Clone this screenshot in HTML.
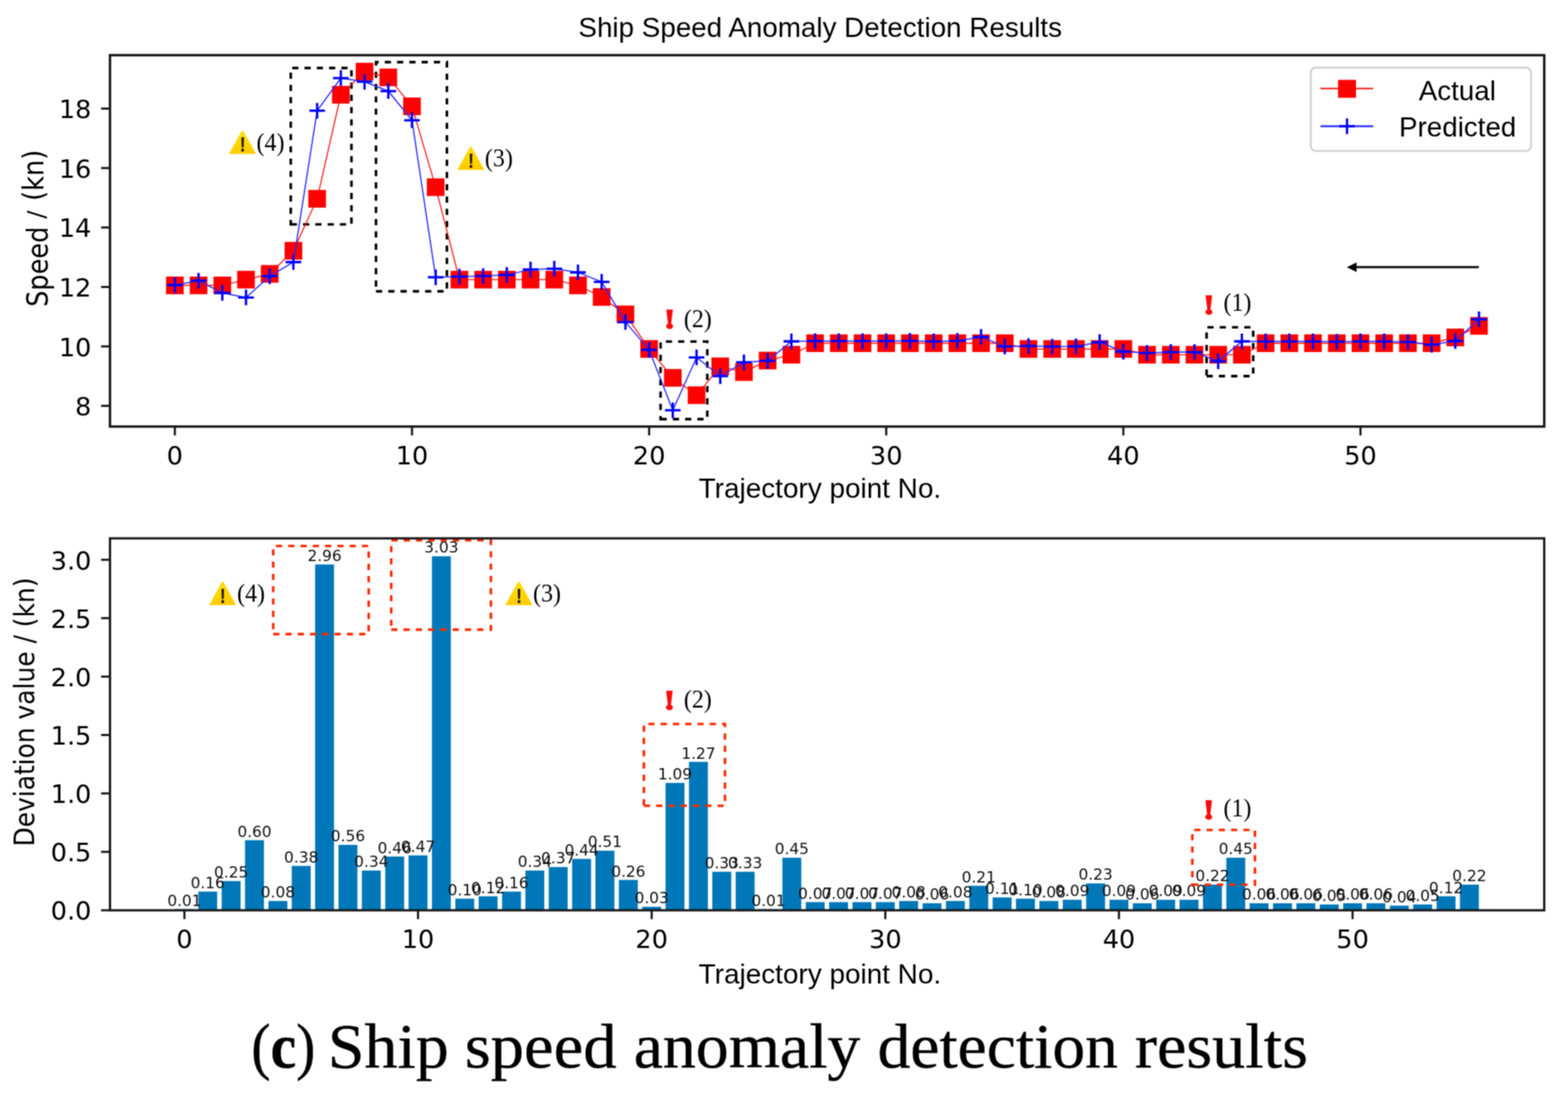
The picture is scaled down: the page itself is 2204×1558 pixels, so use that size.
<!DOCTYPE html>
<html lang="en"><head><meta charset="utf-8"><title>Ship speed anomaly detection results</title>
<style>html,body{margin:0;padding:0;background:#fff}body{width:2204px;height:1558px;overflow:hidden}svg{display:block}</style>
</head><body>
<svg width="2204" height="1558" viewBox="0 0 2204 1558">
<rect x="0" y="0" width="2204" height="1558" fill="#fff"/>
<defs>
<filter id="soft" x="0" y="0" width="2204" height="1558" filterUnits="userSpaceOnUse" color-interpolation-filters="sRGB"><feConvolveMatrix order="3" kernelMatrix="1 2 1 2 4 2 1 2 1" divisor="16" edgeMode="duplicate" preserveAlpha="true"/></filter>
<linearGradient id="wg" x1="0" y1="0" x2="0" y2="1"><stop offset="0" stop-color="#ffe100"/><stop offset="0.8" stop-color="#ffd000"/><stop offset="1" stop-color="#ffc400"/></linearGradient>
</defs>
<g id="fig" filter="url(#soft)">
<rect x="0" y="0" width="2204" height="1558" fill="#fff"/>
<g id="top">
<text x="1152.9" y="52" font-family='"Liberation Sans", Arial, Helvetica, sans-serif' font-size="39" text-anchor="middle" fill="#000" textLength="679.6" lengthAdjust="spacingAndGlyphs">Ship Speed Anomaly Detection Results</text>
<path d="M408.7 315.5H494.0V95.6H408.7Z" fill="none" stroke="#000" stroke-width="3.6" stroke-dasharray="8.70 8.56" stroke-dashoffset="0"/>
<path d="M528.5 409.6H628.2V87.4H528.5Z" fill="none" stroke="#000" stroke-width="3.6" stroke-dasharray="8.70 8.56" stroke-dashoffset="0"/>
<path d="M928.5 589.4H994.2V480.3H928.5Z" fill="none" stroke="#000" stroke-width="3.6" stroke-dasharray="8.70 8.56" stroke-dashoffset="0"/>
<path d="M1696.0 528.9H1761.5V460.2H1696.0Z" fill="none" stroke="#000" stroke-width="3.6" stroke-dasharray="8.70 8.56" stroke-dashoffset="0"/>
<polyline points="245.8,401.3 279.1,401.3 312.5,401.3 345.8,393.2 379.1,385.1 412.4,352.6 445.8,279.5 479.1,133.2 512.4,100.7 545.8,108.8 579.1,149.5 612.4,263.2 645.8,393.2 679.1,393.2 712.4,393.2 745.8,393.2 779.1,393.2 812.4,401.3 845.7,417.6 879.1,442.0 912.4,490.7 945.7,531.3 979.1,555.7 1012.4,515.1 1045.7,523.2 1079.0,507.0 1112.4,498.8 1145.7,482.6 1179.0,482.6 1212.4,482.6 1245.7,482.6 1279.0,482.6 1312.4,482.6 1345.7,482.6 1379.0,482.6 1412.3,482.6 1445.7,490.7 1479.0,490.7 1512.3,490.7 1545.7,490.7 1579.0,490.7 1612.3,498.8 1645.7,498.8 1679.0,498.8 1712.3,498.8 1745.6,498.8 1779.0,482.6 1812.3,482.6 1845.6,482.6 1879.0,482.6 1912.3,482.6 1945.6,482.6 1979.0,482.6 2012.3,482.6 2045.6,474.5 2078.9,458.2" fill="none" stroke="#ff1a1a" stroke-width="1.6" stroke-linejoin="round"/>
<rect x="233.4" y="388.9" width="24.8" height="24.8" fill="#ff0000"/>
<rect x="266.7" y="388.9" width="24.8" height="24.8" fill="#ff0000"/>
<rect x="300.1" y="388.9" width="24.8" height="24.8" fill="#ff0000"/>
<rect x="333.4" y="380.8" width="24.8" height="24.8" fill="#ff0000"/>
<rect x="366.7" y="372.7" width="24.8" height="24.8" fill="#ff0000"/>
<rect x="400.1" y="340.2" width="24.8" height="24.8" fill="#ff0000"/>
<rect x="433.4" y="267.1" width="24.8" height="24.8" fill="#ff0000"/>
<rect x="466.7" y="120.8" width="24.8" height="24.8" fill="#ff0000"/>
<rect x="500.0" y="88.3" width="24.8" height="24.8" fill="#ff0000"/>
<rect x="533.4" y="96.4" width="24.8" height="24.8" fill="#ff0000"/>
<rect x="566.7" y="137.1" width="24.8" height="24.8" fill="#ff0000"/>
<rect x="600.0" y="250.8" width="24.8" height="24.8" fill="#ff0000"/>
<rect x="633.4" y="380.8" width="24.8" height="24.8" fill="#ff0000"/>
<rect x="666.7" y="380.8" width="24.8" height="24.8" fill="#ff0000"/>
<rect x="700.0" y="380.8" width="24.8" height="24.8" fill="#ff0000"/>
<rect x="733.4" y="380.8" width="24.8" height="24.8" fill="#ff0000"/>
<rect x="766.7" y="380.8" width="24.8" height="24.8" fill="#ff0000"/>
<rect x="800.0" y="388.9" width="24.8" height="24.8" fill="#ff0000"/>
<rect x="833.3" y="405.2" width="24.8" height="24.8" fill="#ff0000"/>
<rect x="866.7" y="429.6" width="24.8" height="24.8" fill="#ff0000"/>
<rect x="900.0" y="478.3" width="24.8" height="24.8" fill="#ff0000"/>
<rect x="933.3" y="518.9" width="24.8" height="24.8" fill="#ff0000"/>
<rect x="966.7" y="543.3" width="24.8" height="24.8" fill="#ff0000"/>
<rect x="1000.0" y="502.7" width="24.8" height="24.8" fill="#ff0000"/>
<rect x="1033.3" y="510.8" width="24.8" height="24.8" fill="#ff0000"/>
<rect x="1066.6" y="494.6" width="24.8" height="24.8" fill="#ff0000"/>
<rect x="1100.0" y="486.4" width="24.8" height="24.8" fill="#ff0000"/>
<rect x="1133.3" y="470.2" width="24.8" height="24.8" fill="#ff0000"/>
<rect x="1166.6" y="470.2" width="24.8" height="24.8" fill="#ff0000"/>
<rect x="1200.0" y="470.2" width="24.8" height="24.8" fill="#ff0000"/>
<rect x="1233.3" y="470.2" width="24.8" height="24.8" fill="#ff0000"/>
<rect x="1266.6" y="470.2" width="24.8" height="24.8" fill="#ff0000"/>
<rect x="1300.0" y="470.2" width="24.8" height="24.8" fill="#ff0000"/>
<rect x="1333.3" y="470.2" width="24.8" height="24.8" fill="#ff0000"/>
<rect x="1366.6" y="470.2" width="24.8" height="24.8" fill="#ff0000"/>
<rect x="1399.9" y="470.2" width="24.8" height="24.8" fill="#ff0000"/>
<rect x="1433.3" y="478.3" width="24.8" height="24.8" fill="#ff0000"/>
<rect x="1466.6" y="478.3" width="24.8" height="24.8" fill="#ff0000"/>
<rect x="1499.9" y="478.3" width="24.8" height="24.8" fill="#ff0000"/>
<rect x="1533.3" y="478.3" width="24.8" height="24.8" fill="#ff0000"/>
<rect x="1566.6" y="478.3" width="24.8" height="24.8" fill="#ff0000"/>
<rect x="1599.9" y="486.4" width="24.8" height="24.8" fill="#ff0000"/>
<rect x="1633.3" y="486.4" width="24.8" height="24.8" fill="#ff0000"/>
<rect x="1666.6" y="486.4" width="24.8" height="24.8" fill="#ff0000"/>
<rect x="1699.9" y="486.4" width="24.8" height="24.8" fill="#ff0000"/>
<rect x="1733.2" y="486.4" width="24.8" height="24.8" fill="#ff0000"/>
<rect x="1766.6" y="470.2" width="24.8" height="24.8" fill="#ff0000"/>
<rect x="1799.9" y="470.2" width="24.8" height="24.8" fill="#ff0000"/>
<rect x="1833.2" y="470.2" width="24.8" height="24.8" fill="#ff0000"/>
<rect x="1866.6" y="470.2" width="24.8" height="24.8" fill="#ff0000"/>
<rect x="1899.9" y="470.2" width="24.8" height="24.8" fill="#ff0000"/>
<rect x="1933.2" y="470.2" width="24.8" height="24.8" fill="#ff0000"/>
<rect x="1966.6" y="470.2" width="24.8" height="24.8" fill="#ff0000"/>
<rect x="1999.9" y="470.2" width="24.8" height="24.8" fill="#ff0000"/>
<rect x="2033.2" y="462.1" width="24.8" height="24.8" fill="#ff0000"/>
<rect x="2066.5" y="445.8" width="24.8" height="24.8" fill="#ff0000"/>
<polyline points="245.8,400.9 279.1,394.7 312.5,411.8 345.8,418.3 379.1,388.4 412.4,368.5 445.8,155.7 479.1,109.8 512.4,114.9 545.8,128.1 579.1,169.1 612.4,389.9 645.8,389.0 679.1,388.2 712.4,386.5 745.8,379.0 779.1,377.8 812.4,383.0 845.7,396.3 879.1,452.8 912.4,492.0 945.7,576.9 979.1,502.6 1012.4,528.9 1045.7,509.4 1079.0,507.4 1112.4,480.0 1145.7,479.7 1179.0,479.7 1212.4,479.7 1245.7,479.7 1279.0,479.3 1312.4,480.1 1345.7,479.3 1379.0,473.8 1412.3,487.2 1445.7,486.5 1479.0,487.4 1512.3,487.0 1545.7,481.1 1579.0,494.5 1612.3,496.3 1645.7,495.1 1679.0,495.1 1712.3,508.0 1745.6,480.0 1779.0,480.1 1812.3,480.1 1845.6,480.1 1879.0,480.5 1912.3,480.1 1945.6,480.1 1979.0,480.9 2012.3,484.7 2045.6,479.5 2078.9,449.0" fill="none" stroke="#2a2aff" stroke-width="1.7" stroke-linejoin="round"/>
<path d="M234.8 400.9h22M245.8 389.9v22M268.1 394.7h22M279.1 383.7v22M301.5 411.8h22M312.5 400.8v22M334.8 418.3h22M345.8 407.3v22M368.1 388.4h22M379.1 377.4v22M401.4 368.5h22M412.4 357.5v22M434.8 155.7h22M445.8 144.7v22M468.1 109.8h22M479.1 98.8v22M501.4 114.9h22M512.4 103.9v22M534.8 128.1h22M545.8 117.1v22M568.1 169.1h22M579.1 158.1v22M601.4 389.9h22M612.4 378.9v22M634.8 389.0h22M645.8 378.0v22M668.1 388.2h22M679.1 377.2v22M701.4 386.5h22M712.4 375.5v22M734.8 379.0h22M745.8 368.0v22M768.1 377.8h22M779.1 366.8v22M801.4 383.0h22M812.4 372.0v22M834.7 396.3h22M845.7 385.3v22M868.1 452.8h22M879.1 441.8v22M901.4 492.0h22M912.4 481.0v22M934.7 576.9h22M945.7 565.9v22M968.1 502.6h22M979.1 491.6v22M1001.4 528.9h22M1012.4 517.9v22M1034.7 509.4h22M1045.7 498.4v22M1068.0 507.4h22M1079.0 496.4v22M1101.4 480.0h22M1112.4 469.0v22M1134.7 479.7h22M1145.7 468.7v22M1168.0 479.7h22M1179.0 468.7v22M1201.4 479.7h22M1212.4 468.7v22M1234.7 479.7h22M1245.7 468.7v22M1268.0 479.3h22M1279.0 468.3v22M1301.4 480.1h22M1312.4 469.1v22M1334.7 479.3h22M1345.7 468.3v22M1368.0 473.8h22M1379.0 462.8v22M1401.3 487.2h22M1412.3 476.2v22M1434.7 486.5h22M1445.7 475.5v22M1468.0 487.4h22M1479.0 476.4v22M1501.3 487.0h22M1512.3 476.0v22M1534.7 481.1h22M1545.7 470.1v22M1568.0 494.5h22M1579.0 483.5v22M1601.3 496.3h22M1612.3 485.3v22M1634.7 495.1h22M1645.7 484.1v22M1668.0 495.1h22M1679.0 484.1v22M1701.3 508.0h22M1712.3 497.0v22M1734.6 480.0h22M1745.6 469.0v22M1768.0 480.1h22M1779.0 469.1v22M1801.3 480.1h22M1812.3 469.1v22M1834.6 480.1h22M1845.6 469.1v22M1868.0 480.5h22M1879.0 469.5v22M1901.3 480.1h22M1912.3 469.1v22M1934.6 480.1h22M1945.6 469.1v22M1968.0 480.9h22M1979.0 469.9v22M2001.3 484.7h22M2012.3 473.7v22M2034.6 479.5h22M2045.6 468.5v22M2067.9 449.0h22M2078.9 438.0v22" fill="none" stroke="#0000ff" stroke-width="3.3"/>
<rect x="154.6" y="77.6" width="2016.0" height="522.1999999999999" fill="none" stroke="#181818" stroke-width="3.4"/>
<line x1="142.1" y1="570.7" x2="154.6" y2="570.7" stroke="#181818" stroke-width="3"/>
<text x="128.5" y="584.1" font-family='"DejaVu Sans", "Liberation Sans", sans-serif' font-size="36" text-anchor="end" fill="#000">8</text>
<line x1="142.1" y1="487.1" x2="154.6" y2="487.1" stroke="#181818" stroke-width="3"/>
<text x="128.5" y="500.5" font-family='"DejaVu Sans", "Liberation Sans", sans-serif' font-size="36" text-anchor="end" fill="#000">10</text>
<line x1="142.1" y1="403.5" x2="154.6" y2="403.5" stroke="#181818" stroke-width="3"/>
<text x="128.5" y="416.9" font-family='"DejaVu Sans", "Liberation Sans", sans-serif' font-size="36" text-anchor="end" fill="#000">12</text>
<line x1="142.1" y1="319.9" x2="154.6" y2="319.9" stroke="#181818" stroke-width="3"/>
<text x="128.5" y="333.3" font-family='"DejaVu Sans", "Liberation Sans", sans-serif' font-size="36" text-anchor="end" fill="#000">14</text>
<line x1="142.1" y1="236.3" x2="154.6" y2="236.3" stroke="#181818" stroke-width="3"/>
<text x="128.5" y="249.7" font-family='"DejaVu Sans", "Liberation Sans", sans-serif' font-size="36" text-anchor="end" fill="#000">16</text>
<line x1="142.1" y1="152.7" x2="154.6" y2="152.7" stroke="#181818" stroke-width="3"/>
<text x="128.5" y="166.1" font-family='"DejaVu Sans", "Liberation Sans", sans-serif' font-size="36" text-anchor="end" fill="#000">18</text>
<line x1="245.8" y1="599.8" x2="245.8" y2="612.3" stroke="#181818" stroke-width="3"/>
<text x="245.8" y="652.5" font-family='"DejaVu Sans", "Liberation Sans", sans-serif' font-size="36" text-anchor="middle" fill="#000">0</text>
<line x1="579.1" y1="599.8" x2="579.1" y2="612.3" stroke="#181818" stroke-width="3"/>
<text x="579.1" y="652.5" font-family='"DejaVu Sans", "Liberation Sans", sans-serif' font-size="36" text-anchor="middle" fill="#000">10</text>
<line x1="912.4" y1="599.8" x2="912.4" y2="612.3" stroke="#181818" stroke-width="3"/>
<text x="912.4" y="652.5" font-family='"DejaVu Sans", "Liberation Sans", sans-serif' font-size="36" text-anchor="middle" fill="#000">20</text>
<line x1="1245.7" y1="599.8" x2="1245.7" y2="612.3" stroke="#181818" stroke-width="3"/>
<text x="1245.7" y="652.5" font-family='"DejaVu Sans", "Liberation Sans", sans-serif' font-size="36" text-anchor="middle" fill="#000">30</text>
<line x1="1579.0" y1="599.8" x2="1579.0" y2="612.3" stroke="#181818" stroke-width="3"/>
<text x="1579.0" y="652.5" font-family='"DejaVu Sans", "Liberation Sans", sans-serif' font-size="36" text-anchor="middle" fill="#000">40</text>
<line x1="1912.3" y1="599.8" x2="1912.3" y2="612.3" stroke="#181818" stroke-width="3"/>
<text x="1912.3" y="652.5" font-family='"DejaVu Sans", "Liberation Sans", sans-serif' font-size="36" text-anchor="middle" fill="#000">50</text>
<text x="1152.5" y="699.5" font-family='"Liberation Sans", Arial, Helvetica, sans-serif' font-size="39" text-anchor="middle" fill="#000" textLength="340.8" lengthAdjust="spacingAndGlyphs">Trajectory point No.</text>
<text transform="translate(67.0 431.6) rotate(-90)" font-family='"DejaVu Sans", "Liberation Sans", sans-serif' font-size="40" fill="#000" textLength="113.0" lengthAdjust="spacingAndGlyphs">Speed</text>
<text transform="translate(63.0 307.6) rotate(-90)" font-family='"DejaVu Sans", "Liberation Sans", sans-serif' font-size="34.5" fill="#000" textLength="11.6" lengthAdjust="spacingAndGlyphs">/</text>
<text transform="translate(61.0 282.6) rotate(-90)" font-family='"DejaVu Sans", "Liberation Sans", sans-serif' font-size="40" fill="#000" textLength="72.0" lengthAdjust="spacingAndGlyphs">(kn)</text>
<rect x="1842.5" y="95.1" width="309.6" height="117.2" rx="7" ry="7" fill="#fff" fill-opacity="0.8" stroke="#cfcfcf" stroke-width="2.6"/>
<line x1="1856.1" y1="124.6" x2="1930.2" y2="124.6" stroke="#ff0000" stroke-width="2"/>
<rect x="1880.8" y="112.3" width="25.2" height="25.2" fill="#ff0000"/>
<line x1="1856.1" y1="177.5" x2="1930.2" y2="177.5" stroke="#4646ff" stroke-width="3"/>
<path d="M1882.4 177.5h22M1893.4 166.5v22" stroke="#0000ff" stroke-width="3.3" fill="none"/>
<text x="2048.4" y="141.2" font-family='"Liberation Sans", Arial, Helvetica, sans-serif' font-size="39" text-anchor="middle" fill="#000">Actual</text>
<text x="2048.9" y="192.2" font-family='"Liberation Sans", Arial, Helvetica, sans-serif' font-size="39" text-anchor="middle" fill="#000">Predicted</text>
<line x1="1905" y1="375.7" x2="2078.6" y2="375.7" stroke="#1a1a1a" stroke-width="3.2"/>
<path d="M1893.2 375.7L1906.8 369V382.4Z" fill="#000"/>
<path d="M339.6 185.5Q340.8 183.7 342.0 185.5L359.0 216.0H322.6Z" fill="url(#wg)" stroke="#ffd60a" stroke-width="1.2" stroke-linejoin="round"/>
<text x="341.1" y="213.2" font-family='"Liberation Sans", Arial, Helvetica, sans-serif' font-size="30" font-weight="bold" text-anchor="middle" fill="#1c1400" textLength="8.2" lengthAdjust="spacingAndGlyphs">!</text>
<text x="360.6" y="211.6" font-family='"Liberation Serif", "Times New Roman", serif' font-size="36" fill="#000" textLength="39.3" lengthAdjust="spacingAndGlyphs">(4)</text>
<path d="M660.6 208.0Q661.8 206.2 663.0 208.0L680.0 238.5H643.6Z" fill="url(#wg)" stroke="#ffd60a" stroke-width="1.2" stroke-linejoin="round"/>
<text x="662.1" y="235.7" font-family='"Liberation Sans", Arial, Helvetica, sans-serif' font-size="30" font-weight="bold" text-anchor="middle" fill="#1c1400" textLength="8.2" lengthAdjust="spacingAndGlyphs">!</text>
<text x="681.6" y="234.1" font-family='"Liberation Serif", "Times New Roman", serif' font-size="36" fill="#000" textLength="39.3" lengthAdjust="spacingAndGlyphs">(3)</text>
<text transform="translate(941.2 462.2) scale(1.25 1)" font-family='"Liberation Serif", "Times New Roman", serif' font-size="39.5" font-weight="bold" text-anchor="middle" fill="#ff0a0a" stroke="#ff0a0a" stroke-width="1.5" stroke-linejoin="miter">!</text>
<text x="961.2" y="459.6" font-family='"Liberation Serif", "Times New Roman", serif' font-size="36" fill="#000" textLength="39.3" lengthAdjust="spacingAndGlyphs">(2)</text>
<text transform="translate(1699.2 441.5) scale(1.25 1)" font-family='"Liberation Serif", "Times New Roman", serif' font-size="39.5" font-weight="bold" text-anchor="middle" fill="#ff0a0a" stroke="#ff0a0a" stroke-width="1.5" stroke-linejoin="miter">!</text>
<text x="1719.7" y="437.2" font-family='"Liberation Serif", "Times New Roman", serif' font-size="36" fill="#000" textLength="39.3" lengthAdjust="spacingAndGlyphs">(1)</text>
</g>
<g id="bot">
<rect x="245.9" y="1278.4" width="26.6" height="1.6" fill="#0077b8"/>
<rect x="278.7" y="1253.7" width="26.6" height="26.3" fill="#0077b8"/>
<rect x="311.6" y="1238.9" width="26.6" height="41.1" fill="#0077b8"/>
<rect x="344.4" y="1181.4" width="26.6" height="98.6" fill="#0077b8"/>
<rect x="377.3" y="1266.9" width="26.6" height="13.1" fill="#0077b8"/>
<rect x="410.1" y="1217.6" width="26.6" height="62.4" fill="#0077b8"/>
<rect x="442.9" y="793.7" width="26.6" height="486.3" fill="#0077b8"/>
<rect x="475.8" y="1188.0" width="26.6" height="92.0" fill="#0077b8"/>
<rect x="508.6" y="1224.1" width="26.6" height="55.9" fill="#0077b8"/>
<rect x="541.5" y="1204.4" width="26.6" height="75.6" fill="#0077b8"/>
<rect x="574.3" y="1202.8" width="26.6" height="77.2" fill="#0077b8"/>
<rect x="607.1" y="782.2" width="26.6" height="497.8" fill="#0077b8"/>
<rect x="640.0" y="1263.6" width="26.6" height="16.4" fill="#0077b8"/>
<rect x="672.8" y="1260.3" width="26.6" height="19.7" fill="#0077b8"/>
<rect x="705.7" y="1253.7" width="26.6" height="26.3" fill="#0077b8"/>
<rect x="738.5" y="1224.1" width="26.6" height="55.9" fill="#0077b8"/>
<rect x="771.3" y="1219.2" width="26.6" height="60.8" fill="#0077b8"/>
<rect x="804.2" y="1207.7" width="26.6" height="72.3" fill="#0077b8"/>
<rect x="837.0" y="1196.2" width="26.6" height="83.8" fill="#0077b8"/>
<rect x="869.9" y="1237.3" width="26.6" height="42.7" fill="#0077b8"/>
<rect x="902.7" y="1275.1" width="26.6" height="4.9" fill="#0077b8"/>
<rect x="935.5" y="1100.9" width="26.6" height="179.1" fill="#0077b8"/>
<rect x="968.4" y="1071.3" width="26.6" height="208.7" fill="#0077b8"/>
<rect x="1001.2" y="1225.8" width="26.6" height="54.2" fill="#0077b8"/>
<rect x="1034.1" y="1225.8" width="26.6" height="54.2" fill="#0077b8"/>
<rect x="1066.9" y="1278.4" width="26.6" height="1.6" fill="#0077b8"/>
<rect x="1099.7" y="1206.1" width="26.6" height="73.9" fill="#0077b8"/>
<rect x="1132.6" y="1268.5" width="26.6" height="11.5" fill="#0077b8"/>
<rect x="1165.4" y="1268.5" width="26.6" height="11.5" fill="#0077b8"/>
<rect x="1198.3" y="1268.5" width="26.6" height="11.5" fill="#0077b8"/>
<rect x="1231.1" y="1268.5" width="26.6" height="11.5" fill="#0077b8"/>
<rect x="1263.9" y="1266.9" width="26.6" height="13.1" fill="#0077b8"/>
<rect x="1296.8" y="1270.1" width="26.6" height="9.9" fill="#0077b8"/>
<rect x="1329.6" y="1266.9" width="26.6" height="13.1" fill="#0077b8"/>
<rect x="1362.5" y="1245.5" width="26.6" height="34.5" fill="#0077b8"/>
<rect x="1395.3" y="1261.9" width="26.6" height="18.1" fill="#0077b8"/>
<rect x="1428.1" y="1263.6" width="26.6" height="16.4" fill="#0077b8"/>
<rect x="1461.0" y="1266.9" width="26.6" height="13.1" fill="#0077b8"/>
<rect x="1493.8" y="1265.2" width="26.6" height="14.8" fill="#0077b8"/>
<rect x="1526.7" y="1242.2" width="26.6" height="37.8" fill="#0077b8"/>
<rect x="1559.5" y="1265.2" width="26.6" height="14.8" fill="#0077b8"/>
<rect x="1592.3" y="1270.1" width="26.6" height="9.9" fill="#0077b8"/>
<rect x="1625.2" y="1265.2" width="26.6" height="14.8" fill="#0077b8"/>
<rect x="1658.0" y="1265.2" width="26.6" height="14.8" fill="#0077b8"/>
<rect x="1690.9" y="1243.9" width="26.6" height="36.1" fill="#0077b8"/>
<rect x="1723.7" y="1206.1" width="26.6" height="73.9" fill="#0077b8"/>
<rect x="1756.5" y="1270.1" width="26.6" height="9.9" fill="#0077b8"/>
<rect x="1789.4" y="1270.1" width="26.6" height="9.9" fill="#0077b8"/>
<rect x="1822.2" y="1270.1" width="26.6" height="9.9" fill="#0077b8"/>
<rect x="1855.1" y="1271.8" width="26.6" height="8.2" fill="#0077b8"/>
<rect x="1887.9" y="1270.1" width="26.6" height="9.9" fill="#0077b8"/>
<rect x="1920.7" y="1270.1" width="26.6" height="9.9" fill="#0077b8"/>
<rect x="1953.6" y="1273.4" width="26.6" height="6.6" fill="#0077b8"/>
<rect x="1986.4" y="1271.8" width="26.6" height="8.2" fill="#0077b8"/>
<rect x="2019.3" y="1260.3" width="26.6" height="19.7" fill="#0077b8"/>
<rect x="2052.1" y="1243.9" width="26.6" height="36.1" fill="#0077b8"/>
<text x="259.2" y="1273.6" font-family='"DejaVu Sans", "Liberation Sans", sans-serif' font-size="21.6" text-anchor="middle" fill="#111">0.01</text>
<text x="292.0" y="1248.9" font-family='"DejaVu Sans", "Liberation Sans", sans-serif' font-size="21.6" text-anchor="middle" fill="#111">0.16</text>
<text x="324.9" y="1234.1" font-family='"DejaVu Sans", "Liberation Sans", sans-serif' font-size="21.6" text-anchor="middle" fill="#111">0.25</text>
<text x="357.7" y="1176.6" font-family='"DejaVu Sans", "Liberation Sans", sans-serif' font-size="21.6" text-anchor="middle" fill="#111">0.60</text>
<text x="390.6" y="1262.1" font-family='"DejaVu Sans", "Liberation Sans", sans-serif' font-size="21.6" text-anchor="middle" fill="#111">0.08</text>
<text x="423.4" y="1212.8" font-family='"DejaVu Sans", "Liberation Sans", sans-serif' font-size="21.6" text-anchor="middle" fill="#111">0.38</text>
<text x="456.2" y="788.9" font-family='"DejaVu Sans", "Liberation Sans", sans-serif' font-size="21.6" text-anchor="middle" fill="#111">2.96</text>
<text x="489.1" y="1183.2" font-family='"DejaVu Sans", "Liberation Sans", sans-serif' font-size="21.6" text-anchor="middle" fill="#111">0.56</text>
<text x="521.9" y="1219.3" font-family='"DejaVu Sans", "Liberation Sans", sans-serif' font-size="21.6" text-anchor="middle" fill="#111">0.34</text>
<text x="554.8" y="1199.6" font-family='"DejaVu Sans", "Liberation Sans", sans-serif' font-size="21.6" text-anchor="middle" fill="#111">0.46</text>
<text x="587.6" y="1198.0" font-family='"DejaVu Sans", "Liberation Sans", sans-serif' font-size="21.6" text-anchor="middle" fill="#111">0.47</text>
<text x="620.4" y="777.4" font-family='"DejaVu Sans", "Liberation Sans", sans-serif' font-size="21.6" text-anchor="middle" fill="#111">3.03</text>
<text x="653.3" y="1258.8" font-family='"DejaVu Sans", "Liberation Sans", sans-serif' font-size="21.6" text-anchor="middle" fill="#111">0.10</text>
<text x="686.1" y="1255.5" font-family='"DejaVu Sans", "Liberation Sans", sans-serif' font-size="21.6" text-anchor="middle" fill="#111">0.12</text>
<text x="719.0" y="1248.9" font-family='"DejaVu Sans", "Liberation Sans", sans-serif' font-size="21.6" text-anchor="middle" fill="#111">0.16</text>
<text x="751.8" y="1219.3" font-family='"DejaVu Sans", "Liberation Sans", sans-serif' font-size="21.6" text-anchor="middle" fill="#111">0.34</text>
<text x="784.6" y="1214.4" font-family='"DejaVu Sans", "Liberation Sans", sans-serif' font-size="21.6" text-anchor="middle" fill="#111">0.37</text>
<text x="817.5" y="1202.9" font-family='"DejaVu Sans", "Liberation Sans", sans-serif' font-size="21.6" text-anchor="middle" fill="#111">0.44</text>
<text x="850.3" y="1191.4" font-family='"DejaVu Sans", "Liberation Sans", sans-serif' font-size="21.6" text-anchor="middle" fill="#111">0.51</text>
<text x="883.2" y="1232.5" font-family='"DejaVu Sans", "Liberation Sans", sans-serif' font-size="21.6" text-anchor="middle" fill="#111">0.26</text>
<text x="916.0" y="1270.3" font-family='"DejaVu Sans", "Liberation Sans", sans-serif' font-size="21.6" text-anchor="middle" fill="#111">0.03</text>
<text x="948.8" y="1096.1" font-family='"DejaVu Sans", "Liberation Sans", sans-serif' font-size="21.6" text-anchor="middle" fill="#111">1.09</text>
<text x="981.7" y="1066.5" font-family='"DejaVu Sans", "Liberation Sans", sans-serif' font-size="21.6" text-anchor="middle" fill="#111">1.27</text>
<text x="1014.5" y="1221.0" font-family='"DejaVu Sans", "Liberation Sans", sans-serif' font-size="21.6" text-anchor="middle" fill="#111">0.33</text>
<text x="1047.4" y="1221.0" font-family='"DejaVu Sans", "Liberation Sans", sans-serif' font-size="21.6" text-anchor="middle" fill="#111">0.33</text>
<text x="1080.2" y="1273.6" font-family='"DejaVu Sans", "Liberation Sans", sans-serif' font-size="21.6" text-anchor="middle" fill="#111">0.01</text>
<text x="1113.0" y="1201.3" font-family='"DejaVu Sans", "Liberation Sans", sans-serif' font-size="21.6" text-anchor="middle" fill="#111">0.45</text>
<text x="1145.9" y="1263.7" font-family='"DejaVu Sans", "Liberation Sans", sans-serif' font-size="21.6" text-anchor="middle" fill="#111">0.07</text>
<text x="1178.7" y="1263.7" font-family='"DejaVu Sans", "Liberation Sans", sans-serif' font-size="21.6" text-anchor="middle" fill="#111">0.07</text>
<text x="1211.6" y="1263.7" font-family='"DejaVu Sans", "Liberation Sans", sans-serif' font-size="21.6" text-anchor="middle" fill="#111">0.07</text>
<text x="1244.4" y="1263.7" font-family='"DejaVu Sans", "Liberation Sans", sans-serif' font-size="21.6" text-anchor="middle" fill="#111">0.07</text>
<text x="1277.2" y="1262.1" font-family='"DejaVu Sans", "Liberation Sans", sans-serif' font-size="21.6" text-anchor="middle" fill="#111">0.08</text>
<text x="1310.1" y="1265.3" font-family='"DejaVu Sans", "Liberation Sans", sans-serif' font-size="21.6" text-anchor="middle" fill="#111">0.06</text>
<text x="1342.9" y="1262.1" font-family='"DejaVu Sans", "Liberation Sans", sans-serif' font-size="21.6" text-anchor="middle" fill="#111">0.08</text>
<text x="1375.8" y="1240.7" font-family='"DejaVu Sans", "Liberation Sans", sans-serif' font-size="21.6" text-anchor="middle" fill="#111">0.21</text>
<text x="1408.6" y="1257.1" font-family='"DejaVu Sans", "Liberation Sans", sans-serif' font-size="21.6" text-anchor="middle" fill="#111">0.11</text>
<text x="1441.4" y="1258.8" font-family='"DejaVu Sans", "Liberation Sans", sans-serif' font-size="21.6" text-anchor="middle" fill="#111">0.10</text>
<text x="1474.3" y="1262.1" font-family='"DejaVu Sans", "Liberation Sans", sans-serif' font-size="21.6" text-anchor="middle" fill="#111">0.08</text>
<text x="1507.1" y="1260.4" font-family='"DejaVu Sans", "Liberation Sans", sans-serif' font-size="21.6" text-anchor="middle" fill="#111">0.09</text>
<text x="1540.0" y="1237.4" font-family='"DejaVu Sans", "Liberation Sans", sans-serif' font-size="21.6" text-anchor="middle" fill="#111">0.23</text>
<text x="1572.8" y="1260.4" font-family='"DejaVu Sans", "Liberation Sans", sans-serif' font-size="21.6" text-anchor="middle" fill="#111">0.09</text>
<text x="1605.6" y="1265.3" font-family='"DejaVu Sans", "Liberation Sans", sans-serif' font-size="21.6" text-anchor="middle" fill="#111">0.06</text>
<text x="1638.5" y="1260.4" font-family='"DejaVu Sans", "Liberation Sans", sans-serif' font-size="21.6" text-anchor="middle" fill="#111">0.09</text>
<text x="1671.3" y="1260.4" font-family='"DejaVu Sans", "Liberation Sans", sans-serif' font-size="21.6" text-anchor="middle" fill="#111">0.09</text>
<text x="1704.2" y="1239.1" font-family='"DejaVu Sans", "Liberation Sans", sans-serif' font-size="21.6" text-anchor="middle" fill="#111">0.22</text>
<text x="1737.0" y="1201.3" font-family='"DejaVu Sans", "Liberation Sans", sans-serif' font-size="21.6" text-anchor="middle" fill="#111">0.45</text>
<text x="1769.8" y="1265.3" font-family='"DejaVu Sans", "Liberation Sans", sans-serif' font-size="21.6" text-anchor="middle" fill="#111">0.06</text>
<text x="1802.7" y="1265.3" font-family='"DejaVu Sans", "Liberation Sans", sans-serif' font-size="21.6" text-anchor="middle" fill="#111">0.06</text>
<text x="1835.5" y="1265.3" font-family='"DejaVu Sans", "Liberation Sans", sans-serif' font-size="21.6" text-anchor="middle" fill="#111">0.06</text>
<text x="1868.4" y="1267.0" font-family='"DejaVu Sans", "Liberation Sans", sans-serif' font-size="21.6" text-anchor="middle" fill="#111">0.05</text>
<text x="1901.2" y="1265.3" font-family='"DejaVu Sans", "Liberation Sans", sans-serif' font-size="21.6" text-anchor="middle" fill="#111">0.06</text>
<text x="1934.0" y="1265.3" font-family='"DejaVu Sans", "Liberation Sans", sans-serif' font-size="21.6" text-anchor="middle" fill="#111">0.06</text>
<text x="1966.9" y="1268.6" font-family='"DejaVu Sans", "Liberation Sans", sans-serif' font-size="21.6" text-anchor="middle" fill="#111">0.04</text>
<text x="1999.7" y="1267.0" font-family='"DejaVu Sans", "Liberation Sans", sans-serif' font-size="21.6" text-anchor="middle" fill="#111">0.05</text>
<text x="2032.6" y="1255.5" font-family='"DejaVu Sans", "Liberation Sans", sans-serif' font-size="21.6" text-anchor="middle" fill="#111">0.12</text>
<text x="2065.4" y="1239.1" font-family='"DejaVu Sans", "Liberation Sans", sans-serif' font-size="21.6" text-anchor="middle" fill="#111">0.22</text>
<path d="M384.0 891.6H518.2V767.7H384.0Z" fill="none" stroke="#ff2a00" stroke-width="3.6" stroke-dasharray="8.70 8.56" stroke-dashoffset="0"/>
<path d="M549.9 885.4H690.0V759.6H549.9Z" fill="none" stroke="#ff2a00" stroke-width="3.6" stroke-dasharray="8.70 8.56" stroke-dashoffset="0"/>
<path d="M905.0 1133.0H1019.0V1018.0H905.0Z" fill="none" stroke="#ff2a00" stroke-width="3.6" stroke-dasharray="8.70 8.56" stroke-dashoffset="0"/>
<path d="M1676.0 1244.0H1764.0V1167.0H1676.0Z" fill="none" stroke="#ff2a00" stroke-width="3.6" stroke-dasharray="8.70 8.56" stroke-dashoffset="0"/>
<rect x="154.6" y="757.0" width="2016.0" height="523.0" fill="none" stroke="#181818" stroke-width="3.2"/>
<line x1="142.1" y1="1280.0" x2="154.6" y2="1280.0" stroke="#181818" stroke-width="3"/>
<text x="128.5" y="1293.4" font-family='"DejaVu Sans", "Liberation Sans", sans-serif' font-size="36" text-anchor="end" fill="#000">0.0</text>
<line x1="142.1" y1="1197.8" x2="154.6" y2="1197.8" stroke="#181818" stroke-width="3"/>
<text x="128.5" y="1211.2" font-family='"DejaVu Sans", "Liberation Sans", sans-serif' font-size="36" text-anchor="end" fill="#000">0.5</text>
<line x1="142.1" y1="1115.7" x2="154.6" y2="1115.7" stroke="#181818" stroke-width="3"/>
<text x="128.5" y="1129.1" font-family='"DejaVu Sans", "Liberation Sans", sans-serif' font-size="36" text-anchor="end" fill="#000">1.0</text>
<line x1="142.1" y1="1033.5" x2="154.6" y2="1033.5" stroke="#181818" stroke-width="3"/>
<text x="128.5" y="1047.0" font-family='"DejaVu Sans", "Liberation Sans", sans-serif' font-size="36" text-anchor="end" fill="#000">1.5</text>
<line x1="142.1" y1="951.4" x2="154.6" y2="951.4" stroke="#181818" stroke-width="3"/>
<text x="128.5" y="964.8" font-family='"DejaVu Sans", "Liberation Sans", sans-serif' font-size="36" text-anchor="end" fill="#000">2.0</text>
<line x1="142.1" y1="869.2" x2="154.6" y2="869.2" stroke="#181818" stroke-width="3"/>
<text x="128.5" y="882.6" font-family='"DejaVu Sans", "Liberation Sans", sans-serif' font-size="36" text-anchor="end" fill="#000">2.5</text>
<line x1="142.1" y1="787.1" x2="154.6" y2="787.1" stroke="#181818" stroke-width="3"/>
<text x="128.5" y="800.5" font-family='"DejaVu Sans", "Liberation Sans", sans-serif' font-size="36" text-anchor="end" fill="#000">3.0</text>
<line x1="259.2" y1="1280.0" x2="259.2" y2="1292.5" stroke="#181818" stroke-width="3"/>
<text x="259.2" y="1333" font-family='"DejaVu Sans", "Liberation Sans", sans-serif' font-size="36" text-anchor="middle" fill="#000">0</text>
<line x1="587.6" y1="1280.0" x2="587.6" y2="1292.5" stroke="#181818" stroke-width="3"/>
<text x="587.6" y="1333" font-family='"DejaVu Sans", "Liberation Sans", sans-serif' font-size="36" text-anchor="middle" fill="#000">10</text>
<line x1="916.0" y1="1280.0" x2="916.0" y2="1292.5" stroke="#181818" stroke-width="3"/>
<text x="916.0" y="1333" font-family='"DejaVu Sans", "Liberation Sans", sans-serif' font-size="36" text-anchor="middle" fill="#000">20</text>
<line x1="1244.4" y1="1280.0" x2="1244.4" y2="1292.5" stroke="#181818" stroke-width="3"/>
<text x="1244.4" y="1333" font-family='"DejaVu Sans", "Liberation Sans", sans-serif' font-size="36" text-anchor="middle" fill="#000">30</text>
<line x1="1572.8" y1="1280.0" x2="1572.8" y2="1292.5" stroke="#181818" stroke-width="3"/>
<text x="1572.8" y="1333" font-family='"DejaVu Sans", "Liberation Sans", sans-serif' font-size="36" text-anchor="middle" fill="#000">40</text>
<line x1="1901.2" y1="1280.0" x2="1901.2" y2="1292.5" stroke="#181818" stroke-width="3"/>
<text x="1901.2" y="1333" font-family='"DejaVu Sans", "Liberation Sans", sans-serif' font-size="36" text-anchor="middle" fill="#000">50</text>
<text x="1152.5" y="1382.7" font-family='"Liberation Sans", Arial, Helvetica, sans-serif' font-size="39" text-anchor="middle" fill="#000" textLength="340.8" lengthAdjust="spacingAndGlyphs">Trajectory point No.</text>
<text transform="translate(48.3 1001.2) rotate(-90)" x="-189.1" font-family='"DejaVu Sans", "Liberation Sans", sans-serif' font-size="39.5" fill="#000" textLength="378.2" lengthAdjust="spacingAndGlyphs">Deviation value / (kn)</text>
<path d="M311.8 819.5Q312.9 817.7 314.1 819.5L330.9 850.4H295.0Z" fill="url(#wg)" stroke="#ffd60a" stroke-width="1.2" stroke-linejoin="round"/>
<text x="313.2" y="847.6" font-family='"Liberation Sans", Arial, Helvetica, sans-serif' font-size="30" font-weight="bold" text-anchor="middle" fill="#1c1400" textLength="8.2" lengthAdjust="spacingAndGlyphs">!</text>
<text x="333.2" y="846.0" font-family='"Liberation Serif", "Times New Roman", serif' font-size="36" fill="#000" textLength="39.3" lengthAdjust="spacingAndGlyphs">(4)</text>
<path d="M728.1 819.5Q729.3 817.7 730.5 819.5L747.5 850.4H711.1Z" fill="url(#wg)" stroke="#ffd60a" stroke-width="1.2" stroke-linejoin="round"/>
<text x="729.6" y="847.6" font-family='"Liberation Sans", Arial, Helvetica, sans-serif' font-size="30" font-weight="bold" text-anchor="middle" fill="#1c1400" textLength="8.2" lengthAdjust="spacingAndGlyphs">!</text>
<text x="749.2" y="846.0" font-family='"Liberation Serif", "Times New Roman", serif' font-size="36" fill="#000" textLength="39.3" lengthAdjust="spacingAndGlyphs">(3)</text>
<text transform="translate(941.0 998.2) scale(1.25 1)" font-family='"Liberation Serif", "Times New Roman", serif' font-size="39.5" font-weight="bold" text-anchor="middle" fill="#ff0a0a" stroke="#ff0a0a" stroke-width="1.5" stroke-linejoin="miter">!</text>
<text x="961.2" y="994.5" font-family='"Liberation Serif", "Times New Roman", serif' font-size="36" fill="#000" textLength="39.3" lengthAdjust="spacingAndGlyphs">(2)</text>
<text transform="translate(1699.0 1152.2) scale(1.25 1)" font-family='"Liberation Serif", "Times New Roman", serif' font-size="39.5" font-weight="bold" text-anchor="middle" fill="#ff0a0a" stroke="#ff0a0a" stroke-width="1.5" stroke-linejoin="miter">!</text>
<text x="1719.7" y="1148.0" font-family='"Liberation Serif", "Times New Roman", serif' font-size="36" fill="#000" textLength="39.3" lengthAdjust="spacingAndGlyphs">(1)</text>
</g>
<text x="353.2" y="1500.7" font-family='"Liberation Serif", "Times New Roman", serif' font-size="88.5" fill="#000" stroke="#000" stroke-width="0.5" textLength="90.2" lengthAdjust="spacingAndGlyphs">(<tspan font-weight="bold">c</tspan>)</text>
<text x="460.8" y="1500.7" font-family='"Liberation Serif", "Times New Roman", serif' font-size="88.5" fill="#000" stroke="#000" stroke-width="0.5" textLength="170.0" lengthAdjust="spacingAndGlyphs">Ship</text>
<text x="653.2" y="1500.7" font-family='"Liberation Serif", "Times New Roman", serif' font-size="88.5" fill="#000" stroke="#000" stroke-width="0.5" textLength="213.6" lengthAdjust="spacingAndGlyphs">speed</text>
<text x="890.8" y="1500.7" font-family='"Liberation Serif", "Times New Roman", serif' font-size="88.5" fill="#000" stroke="#000" stroke-width="0.5" textLength="318.6" lengthAdjust="spacingAndGlyphs">anomaly</text>
<text x="1233.4" y="1500.7" font-family='"Liberation Serif", "Times New Roman", serif' font-size="88.5" fill="#000" stroke="#000" stroke-width="0.5" textLength="338.0" lengthAdjust="spacingAndGlyphs">detection</text>
<text x="1595.2" y="1500.7" font-family='"Liberation Serif", "Times New Roman", serif' font-size="88.5" fill="#000" stroke="#000" stroke-width="0.5" textLength="243.2" lengthAdjust="spacingAndGlyphs">results</text>
</g>
</svg>
</body></html>
